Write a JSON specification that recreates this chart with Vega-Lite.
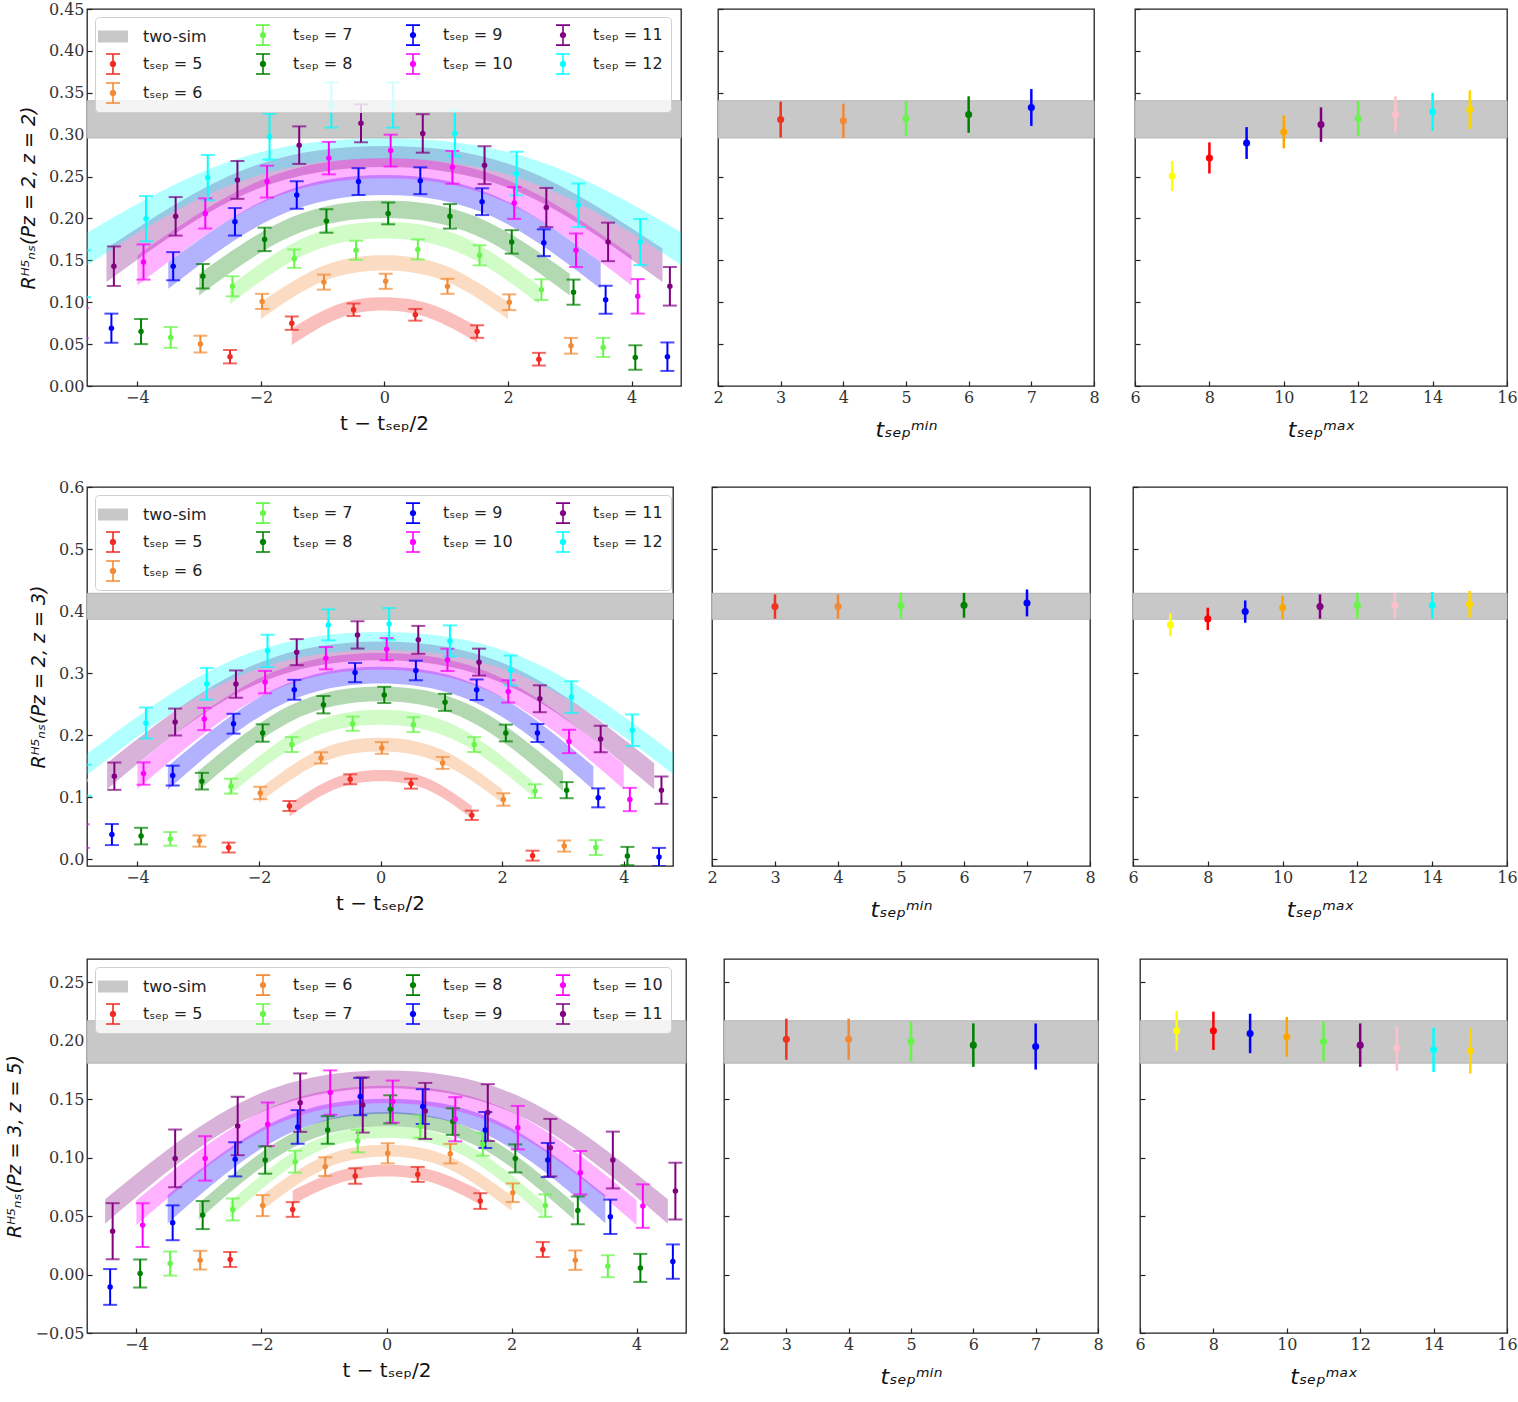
{
"$schema": "https://vega.github.io/schema/vega-lite/v6.json",
"padding": {"left": 5, "top": 0, "right": 0, "bottom": 2},
"background": "white",
"config": {
 "view": {"stroke": "#222", "strokeWidth": 1.3},
 "axis": {"grid": false, "domain": false, "labelFont": "DejaVu Serif", "labelFontSize": 16, "labelColor": "#333", "titleFont": "DejaVu Sans", "titleFontSize": 20, "titleFontWeight": "normal", "titleColor": "#111", "tickColor": "#222", "tickSize": -5, "tickWidth": 1.2, "labelPadding": 8, "labelFlush": false, "labelOverlap": false},
 "axisY": {"titleFontStyle": "italic", "titleFontSize": 19, "titlePadding": 10},
 "axisX": {"titlePadding": 8},
 "legend": {"orient": "top-left", "offset": 8, "columns": 4, "gridAlign": "all", "columnPadding": 40, "rowPadding": 7, "symbolSize": 400, "symbolStrokeWidth": 0, "labelFont": "DejaVu Sans", "labelFontSize": 16, "labelColor": "#222", "labelOffset": 20, "padding": 8, "fillColor": "rgba(255,255,255,0.8)", "strokeColor": "#d0d0d0", "cornerRadius": 4}
},
"datasets": {
 "g1": [{"y": 0.2961, "hi": 0.3404}],
 "g2": [{"y": 0.387, "hi": 0.4287}],
 "g3": [{"y": 0.1809, "hi": 0.2171}],
 "p1": [
  {"s":"5","x":-2.5,"y":0.035,"e":0.008},{"s":"5","x":-1.5,"y":0.075,"e":0.008},{"s":"5","x":-0.5,"y":0.091,"e":0.0075},{"s":"5","x":0.5,"y":0.085,"e":0.007},{"s":"5","x":1.5,"y":0.065,"e":0.0075},{"s":"5","x":2.5,"y":0.032,"e":0.0076},
  {"s":"6","x":-2.98,"y":0.05,"e":0.01},{"s":"6","x":-1.98,"y":0.101,"e":0.009},{"s":"6","x":-0.98,"y":0.124,"e":0.009},{"s":"6","x":0.02,"y":0.125,"e":0.009},{"s":"6","x":1.02,"y":0.119,"e":0.009},{"s":"6","x":2.02,"y":0.1,"e":0.0094},{"s":"6","x":3.02,"y":0.048,"e":0.0094},
  {"s":"7","x":-3.46,"y":0.058,"e":0.0124},{"s":"7","x":-2.46,"y":0.119,"e":0.012},{"s":"7","x":-1.46,"y":0.152,"e":0.011},{"s":"7","x":-0.46,"y":0.162,"e":0.0114},{"s":"7","x":0.54,"y":0.163,"e":0.012},{"s":"7","x":1.54,"y":0.156,"e":0.012},{"s":"7","x":2.54,"y":0.115,"e":0.0124},{"s":"7","x":3.54,"y":0.046,"e":0.0114},
  {"s":"8","x":-3.94,"y":0.065,"e":0.015},{"s":"8","x":-2.94,"y":0.131,"e":0.0146},{"s":"8","x":-1.94,"y":0.175,"e":0.014},{"s":"8","x":-0.94,"y":0.197,"e":0.014},{"s":"8","x":0.06,"y":0.206,"e":0.013},{"s":"8","x":1.06,"y":0.2025,"e":0.0146},{"s":"8","x":2.06,"y":0.172,"e":0.014},{"s":"8","x":3.06,"y":0.112,"e":0.015},{"s":"8","x":4.06,"y":0.034,"e":0.0146},
  {"s":"9","x":-4.42,"y":0.069,"e":0.0174},{"s":"9","x":-3.42,"y":0.143,"e":0.0168},{"s":"9","x":-2.42,"y":0.196,"e":0.0164},{"s":"9","x":-1.42,"y":0.228,"e":0.0164},{"s":"9","x":-0.42,"y":0.244,"e":0.016},{"s":"9","x":0.58,"y":0.245,"e":0.016},{"s":"9","x":1.58,"y":0.22,"e":0.016},{"s":"9","x":2.58,"y":0.171,"e":0.016},{"s":"9","x":3.58,"y":0.103,"e":0.0168},{"s":"9","x":4.58,"y":0.035,"e":0.017},
  {"s":"10","x":-4.9,"y":0.075,"e":0.018},{"s":"10","x":-3.9,"y":0.148,"e":0.021},{"s":"10","x":-2.9,"y":0.206,"e":0.018},{"s":"10","x":-1.9,"y":0.244,"e":0.019},{"s":"10","x":-0.9,"y":0.272,"e":0.0194},{"s":"10","x":0.1,"y":0.281,"e":0.019},{"s":"10","x":1.1,"y":0.261,"e":0.0196},{"s":"10","x":2.1,"y":0.2185,"e":0.019},{"s":"10","x":3.1,"y":0.162,"e":0.02},{"s":"10","x":4.1,"y":0.107,"e":0.0206},
  {"s":"11","x":-4.38,"y":0.143,"e":0.0236},{"s":"11","x":-3.38,"y":0.2025,"e":0.023},{"s":"11","x":-2.38,"y":0.246,"e":0.0226},{"s":"11","x":-1.38,"y":0.2875,"e":0.0224},{"s":"11","x":-0.38,"y":0.3135,"e":0.0226},{"s":"11","x":0.62,"y":0.3015,"e":0.023},{"s":"11","x":1.62,"y":0.2636,"e":0.0226},{"s":"11","x":2.62,"y":0.213,"e":0.0234},{"s":"11","x":3.62,"y":0.172,"e":0.023},{"s":"11","x":4.62,"y":0.119,"e":0.023},
  {"s":"12","x":-4.86,"y":0.134,"e":0.028},{"s":"12","x":-3.86,"y":0.1997,"e":0.027},{"s":"12","x":-2.86,"y":0.2488,"e":0.027},{"s":"12","x":-1.86,"y":0.2975,"e":0.0273},{"s":"12","x":-0.86,"y":0.3354,"e":0.027},{"s":"12","x":0.14,"y":0.3354,"e":0.027},{"s":"12","x":1.14,"y":0.3015,"e":0.0273},{"s":"12","x":2.14,"y":0.2536,"e":0.026},{"s":"12","x":3.14,"y":0.2157,"e":0.026},{"s":"12","x":4.14,"y":0.1718,"e":0.0275}
 ],
 "b1": [
  {"s":"5","x":-1.5,"y":0.049,"hi":0.069},{"s":"5","x":-0.75,"y":0.0804,"hi":0.0976},{"s":"5","x":0,"y":0.09,"hi":0.106},{"s":"5","x":0.75,"y":0.0804,"hi":0.0976},{"s":"5","x":1.5,"y":0.052,"hi":0.071},
  {"s":"6","x":-2,"y":0.08,"hi":0.1},{"s":"6","x":-1,"y":0.1246,"hi":0.1432},{"s":"6","x":0,"y":0.138,"hi":0.156},{"s":"6","x":1,"y":0.1246,"hi":0.1432},{"s":"6","x":2,"y":0.08,"hi":0.1},
  {"s":"7","x":-2.5,"y":0.098,"hi":0.12},{"s":"7","x":-1.25,"y":0.158,"hi":0.1786},{"s":"7","x":0,"y":0.176,"hi":0.196},{"s":"7","x":1.25,"y":0.158,"hi":0.1786},{"s":"7","x":2.5,"y":0.098,"hi":0.12},
  {"s":"8","x":-3,"y":0.108,"hi":0.134},{"s":"8","x":-1.5,"y":0.179,"hi":0.2016},{"s":"8","x":0,"y":0.2005,"hi":0.2215},{"s":"8","x":1.5,"y":0.179,"hi":0.2016},{"s":"8","x":3,"y":0.108,"hi":0.134},
  {"s":"9","x":-3.5,"y":0.116,"hi":0.148},{"s":"9","x":-1.75,"y":0.202,"hi":0.2284},{"s":"9","x":0,"y":0.228,"hi":0.252},{"s":"9","x":1.75,"y":0.202,"hi":0.2284},{"s":"9","x":3.5,"y":0.116,"hi":0.148},
  {"s":"10","x":-4,"y":0.12,"hi":0.156},{"s":"10","x":-2,"y":0.2181,"hi":0.2457},{"s":"10","x":0,"y":0.248,"hi":0.272},{"s":"10","x":2,"y":0.2181,"hi":0.2457},{"s":"10","x":4,"y":0.12,"hi":0.156},
  {"s":"11","x":-4.5,"y":0.124,"hi":0.164},{"s":"11","x":-2.25,"y":0.2293,"hi":0.2589},{"s":"11","x":0,"y":0.2615,"hi":0.2865},{"s":"11","x":2.25,"y":0.2293,"hi":0.2589},{"s":"11","x":4.5,"y":0.124,"hi":0.164},
  {"s":"12","x":-5,"y":0.135,"hi":0.175},{"s":"12","x":-2.5,"y":0.2396,"hi":0.2684},{"s":"12","x":0,"y":0.2715,"hi":0.2955},{"s":"12","x":2.5,"y":0.2396,"hi":0.2684},{"s":"12","x":5,"y":0.135,"hi":0.175}
 ],
 "p2": [
  {"s":"5","x":-2.5,"y":0.019,"e":0.008},{"s":"5","x":-1.5,"y":0.086,"e":0.008},{"s":"5","x":-0.5,"y":0.129,"e":0.008},{"s":"5","x":0.5,"y":0.122,"e":0.008},{"s":"5","x":1.5,"y":0.071,"e":0.0075},{"s":"5","x":2.5,"y":0.006,"e":0.008},
  {"s":"6","x":-2.98,"y":0.0295,"e":0.009},{"s":"6","x":-1.98,"y":0.107,"e":0.01},{"s":"6","x":-0.98,"y":0.1635,"e":0.009},{"s":"6","x":0.02,"y":0.1795,"e":0.0094},{"s":"6","x":1.02,"y":0.1554,"e":0.0096},{"s":"6","x":2.02,"y":0.0965,"e":0.01},{"s":"6","x":3.02,"y":0.0214,"e":0.009},
  {"s":"7","x":-3.46,"y":0.033,"e":0.011},{"s":"7","x":-2.46,"y":0.118,"e":0.012},{"s":"7","x":-1.46,"y":0.185,"e":0.012},{"s":"7","x":-0.46,"y":0.2186,"e":0.0115},{"s":"7","x":0.54,"y":0.217,"e":0.012},{"s":"7","x":1.54,"y":0.185,"e":0.012},{"s":"7","x":2.54,"y":0.11,"e":0.011},{"s":"7","x":3.54,"y":0.019,"e":0.012},
  {"s":"8","x":-3.94,"y":0.0375,"e":0.0134},{"s":"8","x":-2.94,"y":0.126,"e":0.0134},{"s":"8","x":-1.94,"y":0.2036,"e":0.014},{"s":"8","x":-0.94,"y":0.2492,"e":0.014},{"s":"8","x":0.06,"y":0.265,"e":0.013},{"s":"8","x":1.06,"y":0.253,"e":0.0137},{"s":"8","x":2.06,"y":0.2036,"e":0.0135},{"s":"8","x":3.06,"y":0.1115,"e":0.013},{"s":"8","x":4.06,"y":0.0054,"e":0.0147},
  {"s":"9","x":-4.42,"y":0.04,"e":0.017},{"s":"9","x":-3.42,"y":0.135,"e":0.016},{"s":"9","x":-2.42,"y":0.2186,"e":0.016},{"s":"9","x":-1.42,"y":0.2733,"e":0.016},{"s":"9","x":-0.42,"y":0.301,"e":0.0155},{"s":"9","x":0.58,"y":0.3044,"e":0.0158},{"s":"9","x":1.58,"y":0.2733,"e":0.0166},{"s":"9","x":2.58,"y":0.2036,"e":0.0145},{"s":"9","x":3.58,"y":0.0991,"e":0.0153},{"s":"9","x":4.58,"y":0.0038,"e":0.0147},
  {"s":"10","x":-4.9,"y":0.0375,"e":0.019},{"s":"10","x":-3.9,"y":0.1383,"e":0.018},{"s":"10","x":-2.9,"y":0.2262,"e":0.018},{"s":"10","x":-1.9,"y":0.2856,"e":0.018},{"s":"10","x":-0.9,"y":0.3242,"e":0.018},{"s":"10","x":0.1,"y":0.3387,"e":0.018},{"s":"10","x":1.1,"y":0.3215,"e":0.018},{"s":"10","x":2.1,"y":0.2706,"e":0.018},{"s":"10","x":3.1,"y":0.19,"e":0.0188},{"s":"10","x":4.1,"y":0.0965,"e":0.0188},
  {"s":"11","x":-4.38,"y":0.134,"e":0.022},{"s":"11","x":-3.38,"y":0.2213,"e":0.0217},{"s":"11","x":-2.38,"y":0.2824,"e":0.022},{"s":"11","x":-1.38,"y":0.3339,"e":0.021},{"s":"11","x":-0.38,"y":0.3617,"e":0.022},{"s":"11","x":0.62,"y":0.3537,"e":0.0225},{"s":"11","x":1.62,"y":0.3178,"e":0.0217},{"s":"11","x":2.62,"y":0.2588,"e":0.0217},{"s":"11","x":3.62,"y":0.194,"e":0.0214},{"s":"11","x":4.62,"y":0.1115,"e":0.022},
  {"s":"12","x":-4.86,"y":0.1275,"e":0.025},{"s":"12","x":-3.86,"y":0.2197,"e":0.025},{"s":"12","x":-2.86,"y":0.283,"e":0.0255},{"s":"12","x":-1.86,"y":0.336,"e":0.026},{"s":"12","x":-0.86,"y":0.3778,"e":0.025},{"s":"12","x":0.14,"y":0.3794,"e":0.0255},{"s":"12","x":1.14,"y":0.352,"e":0.025},{"s":"12","x":2.14,"y":0.3044,"e":0.024},{"s":"12","x":3.14,"y":0.2615,"e":0.0255},{"s":"12","x":4.14,"y":0.208,"e":0.0255}
 ],
 "b2": [
  {"s":"5","x":-1.5,"y":0.069,"hi":0.089},{"s":"5","x":-0.75,"y":0.1128,"hi":0.1314},{"s":"5","x":0,"y":0.126,"hi":0.144},{"s":"5","x":0.75,"y":0.1128,"hi":0.1314},{"s":"5","x":1.5,"y":0.066,"hi":0.086},
  {"s":"6","x":-2,"y":0.091,"hi":0.113},{"s":"6","x":-1,"y":0.1549,"hi":0.1769},{"s":"6","x":0,"y":0.174,"hi":0.196},{"s":"6","x":1,"y":0.1549,"hi":0.1769},{"s":"6","x":2,"y":0.091,"hi":0.113},
  {"s":"7","x":-2.5,"y":0.102,"hi":0.126},{"s":"7","x":-1.25,"y":0.1906,"hi":0.2146},{"s":"7","x":0,"y":0.217,"hi":0.241},{"s":"7","x":1.25,"y":0.1906,"hi":0.2146},{"s":"7","x":2.5,"y":0.102,"hi":0.126},
  {"s":"8","x":-3,"y":0.11,"hi":0.142},{"s":"8","x":-1.5,"y":0.2211,"hi":0.2475},{"s":"8","x":0,"y":0.2546,"hi":0.2786},{"s":"8","x":1.5,"y":0.2211,"hi":0.2475},{"s":"8","x":3,"y":0.11,"hi":0.142},
  {"s":"9","x":-3.5,"y":0.112,"hi":0.15},{"s":"9","x":-1.75,"y":0.2436,"hi":0.274},{"s":"9","x":0,"y":0.2835,"hi":0.3105},{"s":"9","x":1.75,"y":0.2436,"hi":0.274},{"s":"9","x":3.5,"y":0.112,"hi":0.15},
  {"s":"10","x":-4,"y":0.113,"hi":0.153},{"s":"10","x":-2,"y":0.2607,"hi":0.2917},{"s":"10","x":0,"y":0.3055,"hi":0.3325},{"s":"10","x":2,"y":0.2607,"hi":0.2917},{"s":"10","x":4,"y":0.113,"hi":0.153},
  {"s":"11","x":-4.5,"y":0.113,"hi":0.155},{"s":"11","x":-2.25,"y":0.2727,"hi":0.3063},{"s":"11","x":0,"y":0.321,"hi":0.351},{"s":"11","x":2.25,"y":0.2727,"hi":0.3063},{"s":"11","x":4.5,"y":0.113,"hi":0.155},
  {"s":"12","x":-5,"y":0.123,"hi":0.157},{"s":"12","x":-2.5,"y":0.2879,"hi":0.3185},{"s":"12","x":0,"y":0.3375,"hi":0.3665},{"s":"12","x":2.5,"y":0.2879,"hi":0.3185},{"s":"12","x":5,"y":0.123,"hi":0.157}
 ],
 "p3": [
  {"s":"5","x":-2.5,"y":0.0129,"e":0.0064},{"s":"5","x":-1.5,"y":0.0557,"e":0.0063},{"s":"5","x":-0.5,"y":0.0843,"e":0.0066},{"s":"5","x":0.5,"y":0.0857,"e":0.0064},{"s":"5","x":1.5,"y":0.0629,"e":0.0067},{"s":"5","x":2.5,"y":0.0214,"e":0.0064},
  {"s":"6","x":-2.98,"y":0.0123,"e":0.008},{"s":"6","x":-1.98,"y":0.059,"e":0.009},{"s":"6","x":-0.98,"y":0.0923,"e":0.008},{"s":"6","x":0.02,"y":0.1037,"e":0.0086},{"s":"6","x":1.02,"y":0.1034,"e":0.0083},{"s":"6","x":2.02,"y":0.07,"e":0.008},{"s":"6","x":3.02,"y":0.0123,"e":0.0083},
  {"s":"7","x":-3.46,"y":0.0094,"e":0.0103},{"s":"7","x":-2.46,"y":0.0557,"e":0.0094},{"s":"7","x":-1.46,"y":0.0966,"e":0.0094},{"s":"7","x":-0.46,"y":0.1143,"e":0.0097},{"s":"7","x":0.54,"y":0.1266,"e":0.0096},{"s":"7","x":1.54,"y":0.1114,"e":0.0097},{"s":"7","x":2.54,"y":0.059,"e":0.0096},{"s":"7","x":3.54,"y":0.0071,"e":0.0094},
  {"s":"8","x":-3.94,"y":0.0009,"e":0.012},{"s":"8","x":-2.94,"y":0.0509,"e":0.012},{"s":"8","x":-1.94,"y":0.098,"e":0.0117},{"s":"8","x":-0.94,"y":0.1237,"e":0.0118},{"s":"8","x":0.06,"y":0.1414,"e":0.012},{"s":"8","x":1.06,"y":0.1309,"e":0.0114},{"s":"8","x":2.06,"y":0.0994,"e":0.012},{"s":"8","x":3.06,"y":0.0549,"e":0.0119},{"s":"8","x":4.06,"y":0.0057,"e":0.012},
  {"s":"9","x":-4.42,"y":-0.0106,"e":0.0153},{"s":"9","x":-3.42,"y":0.0443,"e":0.0149},{"s":"9","x":-2.42,"y":0.0986,"e":0.0146},{"s":"9","x":-1.42,"y":0.1263,"e":0.0144},{"s":"9","x":-0.42,"y":0.1523,"e":0.016},{"s":"9","x":0.58,"y":0.1437,"e":0.0149},{"s":"9","x":1.58,"y":0.1237,"e":0.0154},{"s":"9","x":2.58,"y":0.098,"e":0.0146},{"s":"9","x":3.58,"y":0.0494,"e":0.0147},{"s":"9","x":4.58,"y":0.0111,"e":0.0147},
  {"s":"10","x":-4.9,"y":-0.012,"e":0.019},{"s":"10","x":-3.9,"y":0.0423,"e":0.0187},{"s":"10","x":-2.9,"y":0.0994,"e":0.019},{"s":"10","x":-1.9,"y":0.1286,"e":0.0186},{"s":"10","x":-0.9,"y":0.1557,"e":0.019},{"s":"10","x":0.1,"y":0.148,"e":0.018},{"s":"10","x":1.1,"y":0.1329,"e":0.0189},{"s":"10","x":2.1,"y":0.1257,"e":0.0186},{"s":"10","x":3.1,"y":0.0871,"e":0.0186},{"s":"10","x":4.1,"y":0.0586,"e":0.0186},
  {"s":"11","x":-4.38,"y":0.0371,"e":0.024},{"s":"11","x":-3.38,"y":0.0994,"e":0.0247},{"s":"11","x":-2.38,"y":0.1271,"e":0.025},{"s":"11","x":-1.38,"y":0.1471,"e":0.025},{"s":"11","x":-0.38,"y":0.1451,"e":0.0236},{"s":"11","x":0.62,"y":0.14,"e":0.024},{"s":"11","x":1.62,"y":0.1386,"e":0.0243},{"s":"11","x":2.62,"y":0.1086,"e":0.0246},{"s":"11","x":3.62,"y":0.098,"e":0.0243},{"s":"11","x":4.62,"y":0.0714,"e":0.0243}
 ],
 "b3": [
  {"s":"5","x":-1.5,"y":0.06,"hi":0.072},{"s":"5","x":-0.75,"y":0.0784,"hi":0.089},{"s":"5","x":0,"y":0.084,"hi":0.094},{"s":"5","x":0.75,"y":0.0784,"hi":0.089},{"s":"5","x":1.5,"y":0.06,"hi":0.072},
  {"s":"6","x":-2,"y":0.0545,"hi":0.0675},{"s":"6","x":-1,"y":0.0902,"hi":0.1012},{"s":"6","x":0,"y":0.101,"hi":0.111},{"s":"6","x":1,"y":0.0902,"hi":0.1012},{"s":"6","x":2,"y":0.0545,"hi":0.0675},
  {"s":"7","x":-2.5,"y":0.0495,"hi":0.0625},{"s":"7","x":-1.25,"y":0.1013,"hi":0.1123},{"s":"7","x":0,"y":0.117,"hi":0.127},{"s":"7","x":1.25,"y":0.1013,"hi":0.1123},{"s":"7","x":2.5,"y":0.0495,"hi":0.0625},
  {"s":"8","x":-3,"y":0.047,"hi":0.061},{"s":"8","x":-1.5,"y":0.1085,"hi":0.1211},{"s":"8","x":0,"y":0.127,"hi":0.139},{"s":"8","x":1.5,"y":0.1085,"hi":0.1211},{"s":"8","x":3,"y":0.047,"hi":0.061},
  {"s":"9","x":-3.5,"y":0.044,"hi":0.068},{"s":"9","x":-1.75,"y":0.1156,"hi":0.132},{"s":"9","x":0,"y":0.1375,"hi":0.1505},{"s":"9","x":1.75,"y":0.1156,"hi":0.132},{"s":"9","x":3.5,"y":0.044,"hi":0.068},
  {"s":"10","x":-4,"y":0.0425,"hi":0.0635},{"s":"10","x":-2,"y":0.1224,"hi":0.1392},{"s":"10","x":0,"y":0.1465,"hi":0.1615},{"s":"10","x":2,"y":0.1224,"hi":0.1392},{"s":"10","x":4,"y":0.0425,"hi":0.0635},
  {"s":"11","x":-4.5,"y":0.0435,"hi":0.0645},{"s":"11","x":-2.25,"y":0.1326,"hi":0.1494},{"s":"11","x":0,"y":0.1595,"hi":0.1745},{"s":"11","x":2.25,"y":0.1326,"hi":0.1494},{"s":"11","x":4.5,"y":0.0435,"hi":0.0645}
 ],
 "m1": [{"t":3,"y":0.318,"e":0.0214},{"t":4,"y":0.3165,"e":0.0205},{"t":5,"y":0.3192,"e":0.021},{"t":6,"y":0.324,"e":0.0218},{"t":7,"y":0.3324,"e":0.022}],
 "r1": [{"t":7,"y":0.2506,"e":0.018},{"t":8,"y":0.2722,"e":0.0186},{"t":9,"y":0.29,"e":0.019},{"t":10,"y":0.3033,"e":0.0196},{"t":11,"y":0.312,"e":0.0206},{"t":12,"y":0.3192,"e":0.021},{"t":13,"y":0.324,"e":0.0218},{"t":14,"y":0.3272,"e":0.0227},{"t":15,"y":0.33,"e":0.023}],
 "m2": [{"t":3,"y":0.4073,"e":0.0196},{"t":4,"y":0.4073,"e":0.0196},{"t":5,"y":0.4089,"e":0.0206},{"t":6,"y":0.4094,"e":0.02},{"t":7,"y":0.4132,"e":0.0217}],
 "r2": [{"t":7,"y":0.3778,"e":0.0185},{"t":8,"y":0.3875,"e":0.018},{"t":9,"y":0.3992,"e":0.018},{"t":10,"y":0.4057,"e":0.019},{"t":11,"y":0.4073,"e":0.0196},{"t":12,"y":0.4089,"e":0.0206},{"t":13,"y":0.4089,"e":0.0206},{"t":14,"y":0.4094,"e":0.0214},{"t":15,"y":0.411,"e":0.0214}],
 "m3": [{"t":3,"y":0.2014,"e":0.0176},{"t":4,"y":0.2014,"e":0.0176},{"t":5,"y":0.1994,"e":0.017},{"t":6,"y":0.1963,"e":0.0186},{"t":7,"y":0.1951,"e":0.0197}],
 "r3": [{"t":7,"y":0.2086,"e":0.017},{"t":8,"y":0.2086,"e":0.0164},{"t":9,"y":0.2063,"e":0.0169},{"t":10,"y":0.2034,"e":0.017},{"t":11,"y":0.1994,"e":0.017},{"t":12,"y":0.1963,"e":0.0186},{"t":13,"y":0.1934,"e":0.019},{"t":14,"y":0.1923,"e":0.019},{"t":15,"y":0.1914,"e":0.0194}]
},
"columns": 1,
"align": "none",
"spacing": 37,
"resolve": {"scale": {"color": "independent", "shape": "independent"}},
"concat": [
 {"spacing": 29, "resolve": {"scale": {"color": "independent", "shape": "independent"}}, "hconcat": [
  {"width": 594, "height": 377,
   "encoding": {
    "x": {"field": "x", "type": "quantitative", "scale": {"domain": [-4.815, 4.8], "nice": false, "zero": false}, "axis": {"values": [-4,-2,0,2,4], "title": "t − tₛₑₚ/2", "titleFontStyle": "normal"}},
    "y": {"field": "y", "type": "quantitative", "scale": {"domain": [0, 0.45], "nice": false, "zero": false}, "axis": {"values": [0,0.05,0.1,0.15,0.2,0.25,0.3,0.35,0.4,0.45], "format": ".2f", "title": "Rᴴ⁵ₙₛ(Pz = 2, z = 2)"}},
    "color": {"field": "s", "type": "nominal", "scale": {"domain": ["two-sim","11","10","7","5","12","9","8","6"], "range": ["#c8c8c8","#800080","#ff00ff","#66f548","#ee2a22","#00ffff","#0000ff","#008000","#f28a35"]}, "legend": null}
   },
   "layer": [
    {"data": {"values": []}, "mark": {"type": "point", "filled": true, "size": 400, "opacity": 1},
     "encoding": {
      "color": {"field": "s", "type": "nominal", "scale": {"domain": ["two-sim","11","10","7","5","12","9","8","6"], "range": ["#c8c8c8","#800080","#ff00ff","#66f548","#ee2a22","#00ffff","#0000ff","#008000","#f28a35"]}, "legend": {"title": null, "labelExpr": "datum.label == 'two-sim' ? 'two-sim' : 'tₛₑₚ = ' + datum.label"}},
      "shape": {"field": "s", "type": "nominal", "scale": {"domain": ["two-sim","11","10","7","5","12","9","8","6"], "range": ["M-1.5,-0.6H1.5V0.6H-1.5Z","M-0.7,-1.08H0.7V-0.92H-0.7ZM-0.08,-1H0.08V1H-0.08ZM-0.7,0.92H0.7V1.08H-0.7ZM0.32,0A0.32,0.32,0,1,1,-0.32,0A0.32,0.32,0,1,1,0.32,0Z","M-0.7,-1.08H0.7V-0.92H-0.7ZM-0.08,-1H0.08V1H-0.08ZM-0.7,0.92H0.7V1.08H-0.7ZM0.32,0A0.32,0.32,0,1,1,-0.32,0A0.32,0.32,0,1,1,0.32,0Z","M-0.7,-1.08H0.7V-0.92H-0.7ZM-0.08,-1H0.08V1H-0.08ZM-0.7,0.92H0.7V1.08H-0.7ZM0.32,0A0.32,0.32,0,1,1,-0.32,0A0.32,0.32,0,1,1,0.32,0Z","M-0.7,-1.08H0.7V-0.92H-0.7ZM-0.08,-1H0.08V1H-0.08ZM-0.7,0.92H0.7V1.08H-0.7ZM0.32,0A0.32,0.32,0,1,1,-0.32,0A0.32,0.32,0,1,1,0.32,0Z","M-0.7,-1.08H0.7V-0.92H-0.7ZM-0.08,-1H0.08V1H-0.08ZM-0.7,0.92H0.7V1.08H-0.7ZM0.32,0A0.32,0.32,0,1,1,-0.32,0A0.32,0.32,0,1,1,0.32,0Z","M-0.7,-1.08H0.7V-0.92H-0.7ZM-0.08,-1H0.08V1H-0.08ZM-0.7,0.92H0.7V1.08H-0.7ZM0.32,0A0.32,0.32,0,1,1,-0.32,0A0.32,0.32,0,1,1,0.32,0Z","M-0.7,-1.08H0.7V-0.92H-0.7ZM-0.08,-1H0.08V1H-0.08ZM-0.7,0.92H0.7V1.08H-0.7ZM0.32,0A0.32,0.32,0,1,1,-0.32,0A0.32,0.32,0,1,1,0.32,0Z","M-0.7,-1.08H0.7V-0.92H-0.7ZM-0.08,-1H0.08V1H-0.08ZM-0.7,0.92H0.7V1.08H-0.7ZM0.32,0A0.32,0.32,0,1,1,-0.32,0A0.32,0.32,0,1,1,0.32,0Z"]}, "legend": {"title": null, "labelExpr": "datum.label == 'two-sim' ? 'two-sim' : 'tₛₑₚ = ' + datum.label"}}
     }},
    {"data": {"name": "g1"}, "mark": {"type": "rect", "fill": "#c8c8c8", "stroke": "#b4b4b4", "strokeWidth": 1}, "encoding": {"x": {"value": 0}, "x2": {"value": "width"}, "y2": {"field": "hi"}, "color": {"value": "#c8c8c8"}}},
    {"data": {"name": "b1"}, "mark": {"type": "area", "interpolate": "natural", "fillOpacity": 0.3, "clip": true}, "encoding": {"y2": {"field": "hi"}}},
    {"data": {"name": "p1"}, "mark": {"type": "errorbar", "ticks": {"size": 14, "thickness": 2}, "thickness": 2, "clip": true}, "encoding": {"yError": {"field": "e"}}},
    {"data": {"name": "p1"}, "mark": {"type": "circle", "size": 30, "opacity": 1, "clip": true}}
   ]},
  {"width": 376, "height": 377,
   "encoding": {
    "x": {"field": "t", "type": "quantitative", "scale": {"domain": [2, 8], "nice": false, "zero": false}, "axis": {"values": [2,3,4,5,6,7,8], "title": "tₛₑₚᵐⁱⁿ", "titleFontStyle": "italic", "titleFontSize": 22, "titlePadding": 14}},
    "y": {"field": "y", "type": "quantitative", "scale": {"domain": [0, 0.45], "nice": false, "zero": false}, "axis": {"values": [0,0.05,0.1,0.15,0.2,0.25,0.3,0.35,0.4,0.45], "labels": false, "title": null}},
    "color": {"field": "t", "type": "nominal", "scale": {"domain": [3,4,5,6,7], "range": ["#ee3322","#f28a35","#66f548","#008000","#0000ff"]}, "legend": null}
   },
   "layer": [
    {"data": {"name": "g1"}, "mark": {"type": "rect", "fill": "#c8c8c8", "stroke": "#b4b4b4", "strokeWidth": 1}, "encoding": {"x": {"value": 0}, "x2": {"value": "width"}, "y2": {"field": "hi"}, "color": {"value": "#c8c8c8"}}},
    {"data": {"name": "m1"}, "mark": {"type": "errorbar", "thickness": 2.5}, "encoding": {"yError": {"field": "e"}}},
    {"data": {"name": "m1"}, "mark": {"type": "circle", "size": 50, "opacity": 1}}
   ]},
  {"width": 372, "height": 377,
   "encoding": {
    "x": {"field": "t", "type": "quantitative", "scale": {"domain": [6, 16], "nice": false, "zero": false}, "axis": {"values": [6,8,10,12,14,16], "title": "tₛₑₚᵐᵃˣ", "titleFontStyle": "italic", "titleFontSize": 22, "titlePadding": 14}},
    "y": {"field": "y", "type": "quantitative", "scale": {"domain": [0, 0.45], "nice": false, "zero": false}, "axis": {"values": [0,0.05,0.1,0.15,0.2,0.25,0.3,0.35,0.4,0.45], "labels": false, "title": null}},
    "color": {"field": "t", "type": "nominal", "scale": {"domain": [7,8,9,10,11,12,13,14,15], "range": ["#ffff00","#ff0000","#0000ff","#ffa500","#800080","#66f548","#ffc0cb","#00ffff","#ffd700"]}, "legend": null}
   },
   "layer": [
    {"data": {"name": "g1"}, "mark": {"type": "rect", "fill": "#c8c8c8", "stroke": "#b4b4b4", "strokeWidth": 1}, "encoding": {"x": {"value": 0}, "x2": {"value": "width"}, "y2": {"field": "hi"}, "color": {"value": "#c8c8c8"}}},
    {"data": {"name": "r1"}, "mark": {"type": "errorbar", "thickness": 2.5}, "encoding": {"yError": {"field": "e"}}},
    {"data": {"name": "r1"}, "mark": {"type": "circle", "size": 50, "opacity": 1}}
   ]}
 ]},
 {"spacing": 31, "resolve": {"scale": {"color": "independent", "shape": "independent"}}, "hconcat": [
  {"width": 586, "height": 379,
   "encoding": {
    "x": {"field": "x", "type": "quantitative", "scale": {"domain": [-4.83, 4.81], "nice": false, "zero": false}, "axis": {"values": [-4,-2,0,2,4], "title": "t − tₛₑₚ/2", "titleFontStyle": "normal"}},
    "y": {"field": "y", "type": "quantitative", "scale": {"domain": [-0.0107, 0.6], "nice": false, "zero": false}, "axis": {"values": [0,0.1,0.2,0.3,0.4,0.5,0.6], "format": ".1f", "title": "Rᴴ⁵ₙₛ(Pz = 2, z = 3)"}},
    "color": {"field": "s", "type": "nominal", "scale": {"domain": ["two-sim","11","10","7","5","12","9","8","6"], "range": ["#c8c8c8","#800080","#ff00ff","#66f548","#ee2a22","#00ffff","#0000ff","#008000","#f28a35"]}, "legend": null}
   },
   "layer": [
    {"data": {"values": []}, "mark": {"type": "point", "filled": true, "size": 400, "opacity": 1},
     "encoding": {
      "color": {"field": "s", "type": "nominal", "scale": {"domain": ["two-sim","11","10","7","5","12","9","8","6"], "range": ["#c8c8c8","#800080","#ff00ff","#66f548","#ee2a22","#00ffff","#0000ff","#008000","#f28a35"]}, "legend": {"title": null, "labelExpr": "datum.label == 'two-sim' ? 'two-sim' : 'tₛₑₚ = ' + datum.label"}},
      "shape": {"field": "s", "type": "nominal", "scale": {"domain": ["two-sim","11","10","7","5","12","9","8","6"], "range": ["M-1.5,-0.6H1.5V0.6H-1.5Z","M-0.7,-1.08H0.7V-0.92H-0.7ZM-0.08,-1H0.08V1H-0.08ZM-0.7,0.92H0.7V1.08H-0.7ZM0.32,0A0.32,0.32,0,1,1,-0.32,0A0.32,0.32,0,1,1,0.32,0Z","M-0.7,-1.08H0.7V-0.92H-0.7ZM-0.08,-1H0.08V1H-0.08ZM-0.7,0.92H0.7V1.08H-0.7ZM0.32,0A0.32,0.32,0,1,1,-0.32,0A0.32,0.32,0,1,1,0.32,0Z","M-0.7,-1.08H0.7V-0.92H-0.7ZM-0.08,-1H0.08V1H-0.08ZM-0.7,0.92H0.7V1.08H-0.7ZM0.32,0A0.32,0.32,0,1,1,-0.32,0A0.32,0.32,0,1,1,0.32,0Z","M-0.7,-1.08H0.7V-0.92H-0.7ZM-0.08,-1H0.08V1H-0.08ZM-0.7,0.92H0.7V1.08H-0.7ZM0.32,0A0.32,0.32,0,1,1,-0.32,0A0.32,0.32,0,1,1,0.32,0Z","M-0.7,-1.08H0.7V-0.92H-0.7ZM-0.08,-1H0.08V1H-0.08ZM-0.7,0.92H0.7V1.08H-0.7ZM0.32,0A0.32,0.32,0,1,1,-0.32,0A0.32,0.32,0,1,1,0.32,0Z","M-0.7,-1.08H0.7V-0.92H-0.7ZM-0.08,-1H0.08V1H-0.08ZM-0.7,0.92H0.7V1.08H-0.7ZM0.32,0A0.32,0.32,0,1,1,-0.32,0A0.32,0.32,0,1,1,0.32,0Z","M-0.7,-1.08H0.7V-0.92H-0.7ZM-0.08,-1H0.08V1H-0.08ZM-0.7,0.92H0.7V1.08H-0.7ZM0.32,0A0.32,0.32,0,1,1,-0.32,0A0.32,0.32,0,1,1,0.32,0Z","M-0.7,-1.08H0.7V-0.92H-0.7ZM-0.08,-1H0.08V1H-0.08ZM-0.7,0.92H0.7V1.08H-0.7ZM0.32,0A0.32,0.32,0,1,1,-0.32,0A0.32,0.32,0,1,1,0.32,0Z","M-0.7,-1.08H0.7V-0.92H-0.7ZM-0.08,-1H0.08V1H-0.08ZM-0.7,0.92H0.7V1.08H-0.7ZM0.32,0A0.32,0.32,0,1,1,-0.32,0A0.32,0.32,0,1,1,0.32,0Z"]}, "legend": {"title": null, "labelExpr": "datum.label == 'two-sim' ? 'two-sim' : 'tₛₑₚ = ' + datum.label"}}
     }},
    {"data": {"name": "g2"}, "mark": {"type": "rect", "fill": "#c8c8c8", "stroke": "#b4b4b4", "strokeWidth": 1}, "encoding": {"x": {"value": 0}, "x2": {"value": "width"}, "y2": {"field": "hi"}, "color": {"value": "#c8c8c8"}}},
    {"data": {"name": "b2"}, "mark": {"type": "area", "interpolate": "natural", "fillOpacity": 0.3, "clip": true}, "encoding": {"y2": {"field": "hi"}}},
    {"data": {"name": "p2"}, "mark": {"type": "errorbar", "ticks": {"size": 14, "thickness": 2}, "thickness": 2, "clip": true}, "encoding": {"yError": {"field": "e"}}},
    {"data": {"name": "p2"}, "mark": {"type": "circle", "size": 30, "opacity": 1, "clip": true}}
   ]},
  {"width": 378, "height": 379,
   "encoding": {
    "x": {"field": "t", "type": "quantitative", "scale": {"domain": [2, 8], "nice": false, "zero": false}, "axis": {"values": [2,3,4,5,6,7,8], "title": "tₛₑₚᵐⁱⁿ", "titleFontStyle": "italic", "titleFontSize": 22, "titlePadding": 14}},
    "y": {"field": "y", "type": "quantitative", "scale": {"domain": [-0.0107, 0.6], "nice": false, "zero": false}, "axis": {"values": [0,0.1,0.2,0.3,0.4,0.5,0.6], "labels": false, "title": null}},
    "color": {"field": "t", "type": "nominal", "scale": {"domain": [3,4,5,6,7], "range": ["#ee3322","#f28a35","#66f548","#008000","#0000ff"]}, "legend": null}
   },
   "layer": [
    {"data": {"name": "g2"}, "mark": {"type": "rect", "fill": "#c8c8c8", "stroke": "#b4b4b4", "strokeWidth": 1}, "encoding": {"x": {"value": 0}, "x2": {"value": "width"}, "y2": {"field": "hi"}, "color": {"value": "#c8c8c8"}}},
    {"data": {"name": "m2"}, "mark": {"type": "errorbar", "thickness": 2.5}, "encoding": {"yError": {"field": "e"}}},
    {"data": {"name": "m2"}, "mark": {"type": "circle", "size": 50, "opacity": 1}}
   ]},
  {"width": 374, "height": 379,
   "encoding": {
    "x": {"field": "t", "type": "quantitative", "scale": {"domain": [6, 16], "nice": false, "zero": false}, "axis": {"values": [6,8,10,12,14,16], "title": "tₛₑₚᵐᵃˣ", "titleFontStyle": "italic", "titleFontSize": 22, "titlePadding": 14}},
    "y": {"field": "y", "type": "quantitative", "scale": {"domain": [-0.0107, 0.6], "nice": false, "zero": false}, "axis": {"values": [0,0.1,0.2,0.3,0.4,0.5,0.6], "labels": false, "title": null}},
    "color": {"field": "t", "type": "nominal", "scale": {"domain": [7,8,9,10,11,12,13,14,15], "range": ["#ffff00","#ff0000","#0000ff","#ffa500","#800080","#66f548","#ffc0cb","#00ffff","#ffd700"]}, "legend": null}
   },
   "layer": [
    {"data": {"name": "g2"}, "mark": {"type": "rect", "fill": "#c8c8c8", "stroke": "#b4b4b4", "strokeWidth": 1}, "encoding": {"x": {"value": 0}, "x2": {"value": "width"}, "y2": {"field": "hi"}, "color": {"value": "#c8c8c8"}}},
    {"data": {"name": "r2"}, "mark": {"type": "errorbar", "thickness": 2.5}, "encoding": {"yError": {"field": "e"}}},
    {"data": {"name": "r2"}, "mark": {"type": "circle", "size": 50, "opacity": 1}}
   ]}
 ]},
 {"spacing": 30, "resolve": {"scale": {"color": "independent", "shape": "independent"}}, "hconcat": [
  {"width": 599, "height": 374,
   "encoding": {
    "x": {"field": "x", "type": "quantitative", "scale": {"domain": [-4.79, 4.79], "nice": false, "zero": false}, "axis": {"values": [-4,-2,0,2,4], "title": "t − tₛₑₚ/2", "titleFontStyle": "normal"}},
    "y": {"field": "y", "type": "quantitative", "scale": {"domain": [-0.05, 0.27], "nice": false, "zero": false}, "axis": {"values": [-0.05,0,0.05,0.1,0.15,0.2,0.25], "format": ".2f", "title": "Rᴴ⁵ₙₛ(Pz = 3, z = 5)"}},
    "color": {"field": "s", "type": "nominal", "scale": {"domain": ["two-sim","5","6","7","8","9","10","11"], "range": ["#c8c8c8","#ee2a22","#f28a35","#66f548","#008000","#0000ff","#ff00ff","#800080"]}, "legend": null}
   },
   "layer": [
    {"data": {"values": []}, "mark": {"type": "point", "filled": true, "size": 400, "opacity": 1},
     "encoding": {
      "color": {"field": "s", "type": "nominal", "scale": {"domain": ["two-sim","5","6","7","8","9","10","11"], "range": ["#c8c8c8","#ee2a22","#f28a35","#66f548","#008000","#0000ff","#ff00ff","#800080"]}, "legend": {"title": null, "labelExpr": "datum.label == 'two-sim' ? 'two-sim' : 'tₛₑₚ = ' + datum.label"}},
      "shape": {"field": "s", "type": "nominal", "scale": {"domain": ["two-sim","5","6","7","8","9","10","11"], "range": ["M-1.5,-0.6H1.5V0.6H-1.5Z","M-0.7,-1.08H0.7V-0.92H-0.7ZM-0.08,-1H0.08V1H-0.08ZM-0.7,0.92H0.7V1.08H-0.7ZM0.32,0A0.32,0.32,0,1,1,-0.32,0A0.32,0.32,0,1,1,0.32,0Z","M-0.7,-1.08H0.7V-0.92H-0.7ZM-0.08,-1H0.08V1H-0.08ZM-0.7,0.92H0.7V1.08H-0.7ZM0.32,0A0.32,0.32,0,1,1,-0.32,0A0.32,0.32,0,1,1,0.32,0Z","M-0.7,-1.08H0.7V-0.92H-0.7ZM-0.08,-1H0.08V1H-0.08ZM-0.7,0.92H0.7V1.08H-0.7ZM0.32,0A0.32,0.32,0,1,1,-0.32,0A0.32,0.32,0,1,1,0.32,0Z","M-0.7,-1.08H0.7V-0.92H-0.7ZM-0.08,-1H0.08V1H-0.08ZM-0.7,0.92H0.7V1.08H-0.7ZM0.32,0A0.32,0.32,0,1,1,-0.32,0A0.32,0.32,0,1,1,0.32,0Z","M-0.7,-1.08H0.7V-0.92H-0.7ZM-0.08,-1H0.08V1H-0.08ZM-0.7,0.92H0.7V1.08H-0.7ZM0.32,0A0.32,0.32,0,1,1,-0.32,0A0.32,0.32,0,1,1,0.32,0Z","M-0.7,-1.08H0.7V-0.92H-0.7ZM-0.08,-1H0.08V1H-0.08ZM-0.7,0.92H0.7V1.08H-0.7ZM0.32,0A0.32,0.32,0,1,1,-0.32,0A0.32,0.32,0,1,1,0.32,0Z","M-0.7,-1.08H0.7V-0.92H-0.7ZM-0.08,-1H0.08V1H-0.08ZM-0.7,0.92H0.7V1.08H-0.7ZM0.32,0A0.32,0.32,0,1,1,-0.32,0A0.32,0.32,0,1,1,0.32,0Z","M-0.7,-1.08H0.7V-0.92H-0.7ZM-0.08,-1H0.08V1H-0.08ZM-0.7,0.92H0.7V1.08H-0.7ZM0.32,0A0.32,0.32,0,1,1,-0.32,0A0.32,0.32,0,1,1,0.32,0Z"]}, "legend": {"title": null, "labelExpr": "datum.label == 'two-sim' ? 'two-sim' : 'tₛₑₚ = ' + datum.label"}}
     }},
    {"data": {"name": "g3"}, "mark": {"type": "rect", "fill": "#c8c8c8", "stroke": "#b4b4b4", "strokeWidth": 1}, "encoding": {"x": {"value": 0}, "x2": {"value": "width"}, "y2": {"field": "hi"}, "color": {"value": "#c8c8c8"}}},
    {"data": {"name": "b3"}, "mark": {"type": "area", "interpolate": "natural", "fillOpacity": 0.3, "clip": true}, "encoding": {"y2": {"field": "hi"}}},
    {"data": {"name": "p3"}, "mark": {"type": "errorbar", "ticks": {"size": 14, "thickness": 2}, "thickness": 2, "clip": true}, "encoding": {"yError": {"field": "e"}}},
    {"data": {"name": "p3"}, "mark": {"type": "circle", "size": 30, "opacity": 1, "clip": true}}
   ]},
  {"width": 374, "height": 374,
   "encoding": {
    "x": {"field": "t", "type": "quantitative", "scale": {"domain": [2, 8], "nice": false, "zero": false}, "axis": {"values": [2,3,4,5,6,7,8], "title": "tₛₑₚᵐⁱⁿ", "titleFontStyle": "italic", "titleFontSize": 22, "titlePadding": 14}},
    "y": {"field": "y", "type": "quantitative", "scale": {"domain": [-0.05, 0.27], "nice": false, "zero": false}, "axis": {"values": [-0.05,0,0.05,0.1,0.15,0.2,0.25], "labels": false, "title": null}},
    "color": {"field": "t", "type": "nominal", "scale": {"domain": [3,4,5,6,7], "range": ["#ee3322","#f28a35","#66f548","#008000","#0000ff"]}, "legend": null}
   },
   "layer": [
    {"data": {"name": "g3"}, "mark": {"type": "rect", "fill": "#c8c8c8", "stroke": "#b4b4b4", "strokeWidth": 1}, "encoding": {"x": {"value": 0}, "x2": {"value": "width"}, "y2": {"field": "hi"}, "color": {"value": "#c8c8c8"}}},
    {"data": {"name": "m3"}, "mark": {"type": "errorbar", "thickness": 2.5}, "encoding": {"yError": {"field": "e"}}},
    {"data": {"name": "m3"}, "mark": {"type": "circle", "size": 50, "opacity": 1}}
   ]},
  {"width": 367, "height": 374,
   "encoding": {
    "x": {"field": "t", "type": "quantitative", "scale": {"domain": [6, 16], "nice": false, "zero": false}, "axis": {"values": [6,8,10,12,14,16], "title": "tₛₑₚᵐᵃˣ", "titleFontStyle": "italic", "titleFontSize": 22, "titlePadding": 14}},
    "y": {"field": "y", "type": "quantitative", "scale": {"domain": [-0.05, 0.27], "nice": false, "zero": false}, "axis": {"values": [-0.05,0,0.05,0.1,0.15,0.2,0.25], "labels": false, "title": null}},
    "color": {"field": "t", "type": "nominal", "scale": {"domain": [7,8,9,10,11,12,13,14,15], "range": ["#ffff00","#ff0000","#0000ff","#ffa500","#66f548","#800080","#ffc0cb","#00ffff","#ffd700"]}, "legend": null}
   },
   "layer": [
    {"data": {"name": "g3"}, "mark": {"type": "rect", "fill": "#c8c8c8", "stroke": "#b4b4b4", "strokeWidth": 1}, "encoding": {"x": {"value": 0}, "x2": {"value": "width"}, "y2": {"field": "hi"}, "color": {"value": "#c8c8c8"}}},
    {"data": {"name": "r3"}, "mark": {"type": "errorbar", "thickness": 2.5}, "encoding": {"yError": {"field": "e"}}},
    {"data": {"name": "r3"}, "mark": {"type": "circle", "size": 50, "opacity": 1}}
   ]}
 ]}
]
}
